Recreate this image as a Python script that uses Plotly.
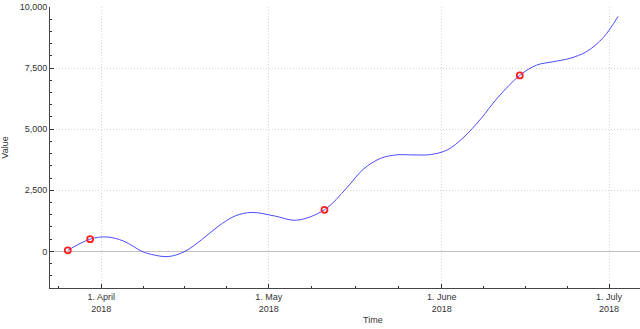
import plotly.graph_objects as go
import pandas as pd

# Curve
curve_dates = [
    "2018-03-26", "2018-03-30", "2018-04-02", "2018-04-05", "2018-04-08 07:00",
    "2018-04-10", "2018-04-13", "2018-04-16", "2018-04-19", "2018-04-22",
    "2018-04-25", "2018-04-28", "2018-05-02", "2018-05-06", "2018-05-11",
    "2018-05-15", "2018-05-18", "2018-05-21", "2018-05-24", "2018-05-27",
    "2018-05-30", "2018-06-02", "2018-06-05", "2018-06-08", "2018-06-11",
    "2018-06-15", "2018-06-18", "2018-06-21", "2018-06-24", "2018-06-27",
    "2018-06-30", "2018-07-02 15:00",
]
curve_values = [
    40, 500, 589, 420, 0,
    -125, -215, 0, 480, 1030,
    1450, 1593, 1450, 1276, 1700,
    2600, 3370, 3800, 3950, 3945,
    3960, 4150, 4680, 5420, 6280,
    7200, 7620, 7760, 7900, 8180,
    8760, 9617,
]

# Marked points
marker_dates = ["2018-03-26", "2018-03-30", "2018-05-11", "2018-06-15"]
marker_values = [40, 500, 1700, 7200]

# Axis settings
x_range = ["2018-03-22 19:30", "2018-07-06 13:00"]
y_range = [-1500, 10000]
month_starts = ["2018-03-01", "2018-04-01", "2018-05-01", "2018-06-01", "2018-07-01", "2018-08-01"]
major_ticks = ["2018-04-01", "2018-05-01", "2018-06-01", "2018-07-01"]
major_labels = ["1. April<br>2018", "1. May<br>2018", "1. June<br>2018", "1. July<br>2018"]

# minor ticks: each month split in quarters
minor_vals = []
ms = pd.to_datetime(month_starts)
for a, b in zip(ms[:-1], ms[1:]):
    step = (b - a) / 4
    for k in range(1, 4):
        minor_vals.append((a + k * step).strftime("%Y-%m-%d %H:%M"))

font = dict(family="Liberation Sans, Arial, sans-serif", size=9, color="#333333")

fig = go.Figure()
fig.add_trace(go.Scatter(
    x=curve_dates, y=curve_values, mode="lines",
    line=dict(color="#4b4bff", width=1, shape="spline", smoothing=1.0),
    hoverinfo="skip", showlegend=False,
))
fig.add_trace(go.Scatter(
    x=marker_dates, y=marker_values, mode="markers",
    marker=dict(symbol="circle-open", size=6, color="#ff2020", line=dict(width=1.8, color="#ff2020")),
    showlegend=False,
))

fig.update_layout(
    width=640, height=329,
    margin=dict(l=50, r=0, t=7, b=41),
    paper_bgcolor="white", plot_bgcolor="white",
    font=font,
    annotations=[dict(text="Time", xref="paper", yref="paper",
                      x=(373 - 50) / 590, y=0.0, yshift=-25, yanchor="top",
                      showarrow=False, font=font)],
)
fig.update_xaxes(
    type="date", range=x_range,
    tickmode="array", tickvals=major_ticks, ticktext=major_labels,
    ticks="inside", ticklen=4, tickcolor="#333333",
    showline=True, linecolor="#444444", linewidth=1,
    showgrid=True, gridcolor="#d4d4d4", griddash="1px,2px", gridwidth=1,
    minor=dict(tickmode="array", tickvals=minor_vals, ticks="inside", ticklen=2,
               tickcolor="#333333", showgrid=False),
    tickfont=font, zeroline=False,
)
fig.update_yaxes(
    range=y_range, tickmode="linear", tick0=0, dtick=2500,
    tickformat=",d",
    ticks="inside", ticklen=4, tickcolor="#333333",
    showline=True, linecolor="#444444", linewidth=1,
    showgrid=True, gridcolor="#d4d4d4", griddash="1px,2px", gridwidth=1,
    zeroline=True, zerolinecolor="#c0c0c0", zerolinewidth=1,
    minor=dict(dtick=500, tick0=0, ticks="inside", ticklen=2, tickcolor="#333333", showgrid=False),
    title=dict(text="Value", font=font, standoff=14),
    tickfont=font,
)

fig.write_html("out.html")
